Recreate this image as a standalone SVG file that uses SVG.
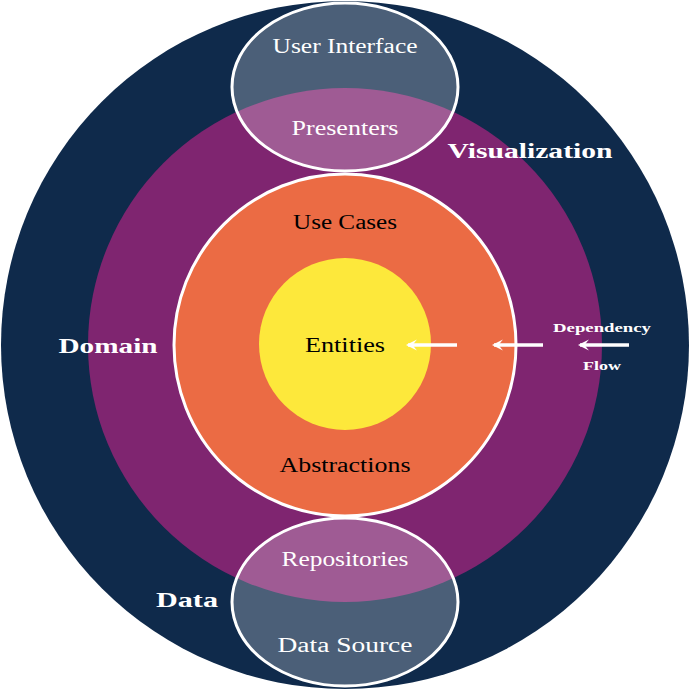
<svg xmlns="http://www.w3.org/2000/svg" width="690" height="689" viewBox="0 0 690 689">
<defs>
<marker id="ah" viewBox="0 0 10 10" refX="2" refY="5" markerWidth="3.2" markerHeight="3.2" orient="auto"><path d="M0,5 L10,0 L6,5 L10,10 Z" fill="#fff"/></marker>
</defs>
<style>
text{font-family:"Liberation Serif",serif;text-anchor:middle}
.w{fill:#fff}.b{font-weight:bold}
.arr{stroke:#fff;stroke-width:3.5;fill:none;marker-start:url(#ah)}
.ell{fill:#fff;fill-opacity:0.25;stroke:#fff;stroke-width:3}
</style>
<g id="data-layer"><circle cx="345" cy="345" r="344" fill="#0f2a4b"/></g>
<g id="domain-layer"><circle cx="345" cy="345" r="257" fill="#7f2570"/></g>
<g id="use-cases"><circle cx="345" cy="345" r="171" fill="#eb6b44" stroke="#fff" stroke-width="3"/>
<text x="345" y="229" font-size="20" textLength="104" lengthAdjust="spacingAndGlyphs">Use Cases</text>
<text x="345" y="472" font-size="20" textLength="131" lengthAdjust="spacingAndGlyphs">Abstractions</text></g>
<g id="entities"><circle cx="345" cy="344" r="86" fill="#fde83b"/>
<text x="345" y="352" font-size="20" textLength="80" lengthAdjust="spacingAndGlyphs">Entities</text></g>
<g id="ui"><ellipse class="ell" cx="345" cy="87" rx="113" ry="84"/>
<text class="w" x="345" y="53" font-size="20" textLength="145" lengthAdjust="spacingAndGlyphs">User Interface</text>
<text class="w" x="345" y="135" font-size="20" textLength="107" lengthAdjust="spacingAndGlyphs">Presenters</text></g>
<g id="ds"><ellipse class="ell" cx="345" cy="602" rx="113" ry="84"/>
<text class="w" x="345" y="566" font-size="20" textLength="127" lengthAdjust="spacingAndGlyphs">Repositories</text>
<text class="w" x="345" y="652" font-size="20" textLength="135" lengthAdjust="spacingAndGlyphs">Data Source</text></g>
<g id="labels">
<text class="w b" x="530" y="158" font-size="22" textLength="165" lengthAdjust="spacingAndGlyphs">Visualization</text>
<text class="w b" x="108" y="353" font-size="22" textLength="99" lengthAdjust="spacingAndGlyphs">Domain</text>
<text class="w b" x="187" y="607" font-size="22" textLength="62" lengthAdjust="spacingAndGlyphs">Data</text>
<text class="w b" x="602" y="332" font-size="13" textLength="98" lengthAdjust="spacingAndGlyphs">Dependency</text>
<text class="w b" x="602" y="370" font-size="13" textLength="38" lengthAdjust="spacingAndGlyphs">Flow</text>
</g>
<g id="connectors">
<line class="arr" x1="408" y1="345" x2="457" y2="345"/>
<line class="arr" x1="494" y1="345" x2="543" y2="345"/>
<line class="arr" x1="580" y1="345" x2="629" y2="345"/>
</g>
</svg>
